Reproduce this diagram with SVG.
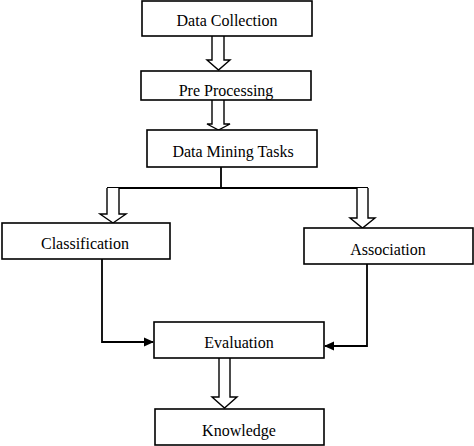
<svg xmlns="http://www.w3.org/2000/svg" width="474" height="446" viewBox="0 0 474 446">
<defs>
<style>
.box{fill:#fff;stroke:#000;stroke-width:1.6}
.lbl{font-family:"Liberation Serif","Times New Roman",serif;font-size:16px;fill:#000;text-anchor:middle}
.ln{fill:none;stroke:#000;stroke-width:1.8}
.hol{fill:#fff;stroke:#000;stroke-width:1.4;stroke-linejoin:miter}
</style>
<marker id="ah" markerWidth="10" markerHeight="10" refX="9" refY="5" orient="auto" markerUnits="userSpaceOnUse">
<path d="M0,0.5 L10,5 L0,9.5 Z" fill="#000"/>
</marker>
</defs>
<g id="connectors">
<path class="hol" d="M212,36 V60 H207 L218.5,70 L230,60 H224 V36"/>
<path class="hol" d="M212,100 V124 H207 L218.5,130 L230,124 H224 V100"/>
<path class="ln" d="M221,167 V188 M107,188 H368"/>
<path class="hol" d="M107,188 V214 H100 L113,223 L126,214 H119 V188"/>
<path class="hol" d="M357,188 V218 H350 L362.5,228 L375,218 H368 V188"/>
<path class="ln" d="M102,259 V342 H153" marker-end="url(#ah)"/>
<path class="ln" d="M367,264 V346 H325" marker-end="url(#ah)"/>
<path class="hol" d="M219,358 V397 H212 L224.5,408 L237,397 H230 V358"/>
</g>
<g id="n1"><rect class="box" x="142" y="1" width="170" height="35"/><text class="lbl" x="227" y="26">Data Collection</text></g>
<g id="n2"><rect class="box" x="141" y="71" width="170" height="29"/><text class="lbl" x="226" y="96">Pre Processing</text></g>
<g id="n3"><rect class="box" x="147" y="130" width="170" height="37"/><text class="lbl" x="233" y="157">Data Mining Tasks</text></g>
<g id="n4"><rect class="box" x="2" y="223" width="168" height="36"/><text class="lbl" x="85" y="249">Classification</text></g>
<g id="n5"><rect class="box" x="304" y="228" width="169" height="36"/><text class="lbl" x="388" y="255">Association</text></g>
<g id="n6"><rect class="box" x="154" y="322" width="170" height="36"/><text class="lbl" x="239" y="348">Evaluation</text></g>
<g id="n7"><rect class="box" x="155" y="409" width="169" height="36"/><text class="lbl" x="239" y="436">Knowledge</text></g>
</svg>
